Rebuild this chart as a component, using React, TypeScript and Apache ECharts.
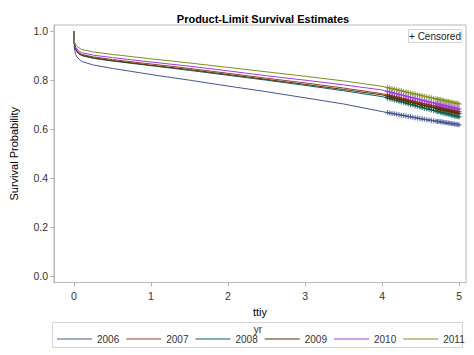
import React, { useEffect, useRef } from "react";
import * as echarts from "echarts";

const years = ["2006", "2007", "2008", "2009", "2010", "2011"];
const colors = ["#445694", "#A23A2E", "#01665E", "#543005", "#9D3CDB", "#7F8E1F"];
const times = [0, 0.003, 0.02, 0.05, 0.1, 0.25, 0.5, 1, 1.5, 2, 2.5, 3, 3.5, 4, 4.5, 5];

const s2006 = [1.0, 0.935, 0.905, 0.89, 0.876, 0.862, 0.848, 0.823, 0.8, 0.776, 0.753, 0.728, 0.703, 0.672, 0.643, 0.618];
const s2007 = [1.0, 0.95, 0.93, 0.915, 0.905, 0.895, 0.884, 0.866, 0.848, 0.828, 0.808, 0.789, 0.768, 0.745, 0.707, 0.672];
const s2008 = [1.0, 0.95, 0.925, 0.91, 0.9, 0.889, 0.878, 0.859, 0.84, 0.82, 0.8, 0.779, 0.757, 0.733, 0.69, 0.65];
const s2009 = [1.0, 0.95, 0.928, 0.912, 0.902, 0.891, 0.88, 0.861, 0.843, 0.823, 0.803, 0.783, 0.762, 0.74, 0.7, 0.664];
const s2010 = [1.0, 0.955, 0.935, 0.922, 0.912, 0.902, 0.892, 0.874, 0.857, 0.838, 0.818, 0.8, 0.781, 0.76, 0.72, 0.683];
const s2011 = [1.0, 0.96, 0.945, 0.935, 0.925, 0.915, 0.905, 0.887, 0.87, 0.852, 0.834, 0.816, 0.797, 0.775, 0.738, 0.703];
const survival = [s2006, s2007, s2008, s2009, s2010, s2011];

const censorTimes = [
  4.07, 4.1, 4.13, 4.16, 4.19, 4.22, 4.25, 4.28, 4.31, 4.34, 4.37, 4.4, 4.43, 4.46, 4.49, 4.52,
  4.55, 4.58, 4.61, 4.64, 4.67, 4.7, 4.72, 4.74, 4.76, 4.78, 4.8, 4.82, 4.84, 4.86, 4.88, 4.9,
  4.92, 4.94, 4.96, 4.98, 5.0,
];

const xTicks = [0, 1, 2, 3, 4, 5];
const yTicks = [0, 0.2, 0.4, 0.6, 0.8, 1.0];

const FONT = "'Liberation Sans', Arial, sans-serif";

function valueAt(ts: number[], vs: number[], t: number) {
  for (let i = 1; i < ts.length; i++) {
    if (t <= ts[i]) {
      const f = (t - ts[i - 1]) / (ts[i] - ts[i - 1]);
      return vs[i - 1] + f * (vs[i] - vs[i - 1]);
    }
  }
  return vs[vs.length - 1];
}

export default function App() {
  const ref = useRef<HTMLDivElement>(null);
  useEffect(() => {
    if (!ref.current) return;
    const chart = echarts.init(ref.current, undefined, { renderer: "svg" });
    const lineSeries = years.map((y, i) => ({
      name: y,
      type: "line",
      data: times.map((t, j) => [t, survival[i][j]]),
      symbol: "none",
      color: colors[i],
      lineStyle: { width: 1, color: colors[i] },
      itemStyle: { color: colors[i] },
      z: 2,
    }));
    const censorSeries = years.map((y, i) => ({
      name: y + "c",
      type: "scatter",
      data: censorTimes.map((t) => [t, valueAt(times, survival[i], t)]),
      symbol: "path://M5,0 L5,10 M0,5 L10,5",
      symbolSize: 5,
      itemStyle: { color: "none", borderColor: colors[i], borderWidth: 1.2 },
      z: 3,
    }));
    chart.setOption({
      animation: false,
      textStyle: { fontFamily: FONT },
      title: {
        text: "Product-Limit Survival Estimates",
        left: 258,
        top: 8,
        textAlign: "center",
        textStyle: { fontSize: 11, fontWeight: "bold", color: "#000", fontFamily: FONT },
      },
      grid: {
        left: 50.5,
        right: 8,
        top: 25,
        bottom: 72.5,
        show: true,
        borderColor: "#b8b8b8",
        borderWidth: 1,
        backgroundColor: "transparent",
      },
      xAxis: {
        type: "value",
        min: -0.26,
        max: 5.09,
        name: "ttiy",
        nameLocation: "middle",
        nameGap: 24,
        nameTextStyle: { fontSize: 11, color: "#000", fontFamily: FONT },
        axisLine: { show: true, onZero: false, lineStyle: { color: "#b8b8b8" } },
        axisTick: { show: true, customValues: xTicks, length: 4, lineStyle: { color: "#b8b8b8" } },
        axisLabel: {
          customValues: xTicks,
          fontSize: 10.5,
          color: "#333",
          margin: 8,
          fontFamily: FONT,
          formatter: (v: number) => String(v),
        },
        splitLine: { show: false },
      },
      yAxis: {
        type: "value",
        min: -0.025,
        max: 1.025,
        name: "Survival Probability",
        nameLocation: "middle",
        nameGap: 35,
        nameRotate: 90,
        nameTextStyle: { fontSize: 11, color: "#000", fontFamily: FONT },
        axisLine: { show: true, onZero: false, lineStyle: { color: "#b8b8b8" } },
        axisTick: { show: true, customValues: yTicks, length: 4, lineStyle: { color: "#b8b8b8" } },
        axisLabel: {
          customValues: yTicks,
          fontSize: 10.5,
          color: "#333",
          margin: 6,
          fontFamily: FONT,
          formatter: (v: number) => v.toFixed(1),
        },
        splitLine: { show: false },
      },
      legend: {
        data: years.map((y, i) => ({
          name: y,
          icon: "rect",
          itemStyle: { color: colors[i], borderWidth: 0 },
          lineStyle: { color: colors[i] },
        })),
        top: 334,
        left: 57,
        width: 440,
        padding: 0,
        itemWidth: 35,
        itemHeight: 1,
        itemGap: 7,
        textStyle: { fontSize: 10, color: "#333", fontFamily: FONT },
        selectedMode: false,
      },
      graphic: [
        {
          type: "rect",
          shape: { x: 52.5, y: 322.5, width: 410, height: 25 },
          style: { fill: "none", stroke: "#d4d4d4", lineWidth: 1 },
        },
        {
          type: "text",
          x: 258,
          y: 329,
          style: { text: "yr", font: "10px " + FONT, fill: "#333", align: "center", verticalAlign: "middle" },
        },
        {
          type: "rect",
          shape: { x: 408.5, y: 29.5, width: 53, height: 13 },
          style: { fill: "#fff", stroke: "#d4d4d4", lineWidth: 1 },
          z: 10,
        },
        {
          type: "text",
          x: 435,
          y: 36,
          z: 11,
          style: { text: "+ Censored", font: "10px " + FONT, fill: "#222", align: "center", verticalAlign: "middle" },
        },
      ],
      series: [...lineSeries, ...censorSeries],
    });
    return () => chart.dispose();
  }, []);
  return (
    <div
      ref={ref}
      style={{ position: "fixed", left: 0, top: 0, width: 474, height: 355, background: "#fff" }}
    />
  );
}
